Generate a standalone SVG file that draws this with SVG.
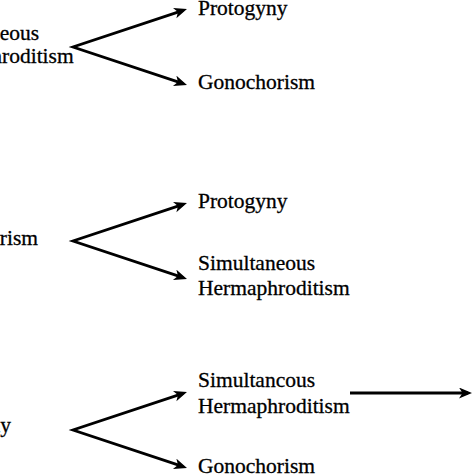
<svg xmlns="http://www.w3.org/2000/svg" width="474" height="474" viewBox="0 0 474 474">
<style>
text{font-family:"Liberation Serif","Times New Roman",serif;font-size:21.5px;fill:#000;stroke:#000;stroke-width:0.3}
.c{fill:none;stroke:#000;stroke-width:2.8;stroke-linejoin:miter;stroke-miterlimit:20}
.e{text-anchor:end}
</style>
<defs>
<marker id="ah" markerUnits="userSpaceOnUse" markerWidth="16" markerHeight="14" refX="9" refY="5.5" orient="auto-start-reverse" viewBox="0 0 16 14">
<path d="M0,0 L13,5.5 L0,11 L3.5,5.5 z" fill="#000"/>
</marker>
</defs>
<rect width="474" height="474" fill="#fff"/>
<g id="connectors">
<path class="c" d="M183.2,10.3 L73,47 L183.2,83.7" marker-start="url(#ah)" marker-end="url(#ah)"/>
<path class="c" d="M183.2,204.3 L73,241 L183.2,277.7" marker-start="url(#ah)" marker-end="url(#ah)"/>
<path class="c" d="M183.2,393.3 L73,430 L183.2,466.7" marker-start="url(#ah)" marker-end="url(#ah)"/>
<path class="c" d="M350,393 L468,393" marker-end="url(#ah)"/>
</g>
<g id="n1-source"><text x="-78" y="40">Simultaneous</text><text x="-78" y="63">Hermaphroditism</text></g>
<g id="n1-protogyny"><text x="198" y="15">Protogyny</text></g>
<g id="n1-gonochorism"><text x="198" y="89">Gonochorism</text></g>
<g id="n2-source"><text class="e" x="38" y="245">Gonochorism</text></g>
<g id="n2-protogyny"><text x="198" y="208">Protogyny</text></g>
<g id="n2-simultaneous"><text x="198" y="270">Simultaneous</text><text x="198" y="295">Hermaphroditism</text></g>
<g id="n3-source"><text class="e" x="11" y="432">Protogyny</text></g>
<g id="n3-simultaneous"><text x="198" y="387">Simultancous</text><text x="198" y="413">Hermaphroditism</text></g>
<g id="n3-gonochorism"><text x="198" y="473">Gonochorism</text></g>
</svg>
